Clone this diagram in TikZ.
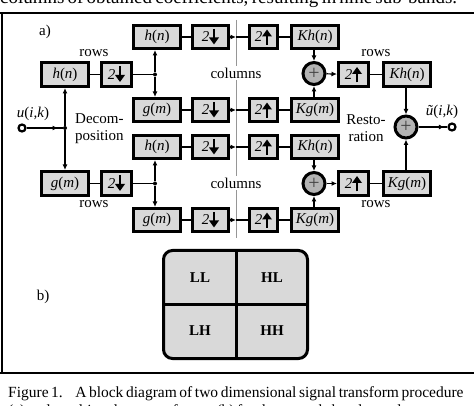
\documentclass[tikz,border=0pt]{standalone}
\usepackage{fontspec}
\setmainfont{Liberation Serif}
\usetikzlibrary{arrows.meta}
\definecolor{boxgray}{RGB}{217,217,217}
\definecolor{plusgray}{RGB}{180,180,180}
\definecolor{colgray}{RGB}{150,150,150}
\begin{document}
\begin{tikzpicture}[x=1pt,y=-1pt,
  font=\fontsize{15}{17}\selectfont,
  box/.style={draw, line width=3pt, fill=boxgray, minimum height=23pt, inner sep=0pt},
  lbox/.style={box, minimum width=47pt},
  twobox/.style={box, path picture={
      \node[inner sep=0pt] at ([xshift=-5pt]path picture bounding box.center) {\textit{2}};
      \draw[line width=2.6pt,-{Triangle[length=7pt,width=9.5pt]}]
        ([xshift=3.5pt,yshift=#1*8pt]path picture bounding box.center) --
        ([xshift=3.5pt,yshift=-#1*7.5pt]path picture bounding box.center);}},
  downbox/.style={twobox=1},
  upbox/.style={twobox=-1},
  dbox/.style={downbox, minimum width=36pt},
  ubox/.style={upbox, minimum width=28pt},
  rdbox/.style={downbox, minimum width=30pt, minimum height=24pt},
  rubox/.style={upbox, minimum width=30pt, minimum height=24pt},
  rlbox/.style={lbox, minimum height=24pt},
  plus/.style={circle, draw, line width=3pt, fill=plusgray, minimum size=22pt, inner sep=0pt,
      font=\fontsize{20}{20}\selectfont, text=black!75},
  port/.style={circle, draw, line width=2.2pt, fill=white, minimum size=7pt, inner sep=0pt},
  dot/.style={circle, fill=black, minimum size=4pt, inner sep=0pt},
  conn/.style={line width=1.2pt},
  arr/.style={conn, -{Latex[length=5.5pt,width=5pt]}},
  lab/.style={inner sep=0pt},
  frame/.style={line width=2pt}
]
\useasboundingbox (0,0) rectangle (474,406);
\clip (0,0) rectangle (474,406);

% frame
\draw[frame] (0,13) -- (474,13);
\draw[frame] (2,13) -- (2,373);
\draw[frame] (0,373) -- (474,373);

% column separator
\draw[colgray, line width=1pt] (236,20) -- (236,238);
\node[lab, fill=white, inner xsep=1pt, inner ysep=2pt] (col1) at (236,73) {columns};
\node[lab, fill=white, inner xsep=1pt, inner ysep=2pt] (col2) at (236,183) {columns};

% labels
\node[lab] (la) at (45,32) {a)};
\node[lab] (r1) at (94,53) {rows};
\node[lab] (r2) at (94,204) {rows};
\node[lab] (r3) at (376,53) {rows};
\node[lab] (r4) at (376,204) {rows};
\node[lab, align=left, anchor=west] (dec) at (75,128.5) {Decom-\\position};
\node[lab, align=center] (res) at (366,128.5) {Resto-\\ration};
\node[lab] (ulab) at (33,114) {\textit{u}(\textit{i,k})};
\node[lab] (olab) at (442,112) {\textit{\~u}(\textit{i,k})};

% decomposition: rows
\node[rlbox] (hL) at (65,74.5) {\textit{h}(\textit{n})};
\node[rdbox] (dL1) at (116.5,74.5) {};
\node[rlbox] (gL) at (65,183.5) {\textit{g}(\textit{m})};
\node[rdbox] (dL2) at (116.5,183.5) {};

% decomposition: columns
\node[lbox] (h1) at (157,37) {\textit{h}(\textit{n})};
\node[dbox] (d1) at (210.5,37) {};
\node[lbox] (g1) at (157,110) {\textit{g}(\textit{m})};
\node[dbox] (d2) at (210.5,110) {};
\node[lbox] (h2) at (157,147) {\textit{h}(\textit{n})};
\node[dbox] (d3) at (210.5,147) {};
\node[lbox] (g2) at (157,220) {\textit{g}(\textit{m})};
\node[dbox] (d4) at (210.5,220) {};

% restoration: columns
\node[ubox] (u1) at (263.5,37) {};
\node[lbox] (K1) at (315,37) {\textit{Kh}(\textit{n})};
\node[ubox] (u2) at (263.5,110) {};
\node[lbox] (K2) at (315,110) {\textit{Kg}(\textit{m})};
\node[ubox] (u3) at (263.5,147) {};
\node[lbox] (K3) at (315,147) {\textit{Kh}(\textit{n})};
\node[ubox] (u4) at (263.5,220) {};
\node[lbox] (K4) at (315,220) {\textit{Kg}(\textit{m})};
\node[plus] (p1) at (314,73.5) {+};
\node[plus] (p2) at (314,183.5) {+};

% restoration: rows
\node[rubox] (uR1) at (353.5,74.5) {};
\node[rlbox] (KR1) at (407,74.5) {\textit{Kh}(\textit{n})};
\node[rubox] (uR2) at (353.5,183.5) {};
\node[rlbox] (KR2) at (407,183.5) {\textit{Kg}(\textit{m})};
\node[plus] (pO) at (406,127) {+};

% ports and junctions
\node[port] (in) at (22,128) {};
\node[port] (out) at (452,127) {};
\node[dot] (jin) at (65,128) {};
\node[dot] (j1) at (155,74.5) {};
\node[dot] (j2) at (155,183.5) {};
\coordinate (c1) at (236,37);
\coordinate (c2) at (236,110);
\coordinate (c3) at (236,147);
\coordinate (c4) at (236,220);

% connectors: input
\draw[conn] (in) -- (jin);
\draw[arr] (in) -- ([xshift=-7pt]jin.center);
\draw[arr] (jin) -- (hL);
\draw[arr] (jin) -- (gL);
\draw[conn] (hL) -- (dL1);
\draw[conn] (gL) -- (dL2);
\draw[conn] (dL1) -- (j1);
\draw[conn] (dL2) -- (j2);
\draw[arr] (j1) -- (j1 |- h1.south);
\draw[arr] (j1) -- (j1 |- g1.north);
\draw[arr] (j2) -- (j2 |- h2.south);
\draw[arr] (j2) -- (j2 |- g2.north);
\draw[conn] (h1) -- (d1);
\draw[conn] (g1) -- (d2);
\draw[conn] (h2) -- (d3);
\draw[conn] (g2) -- (d4);
\draw[arr] (d1) -- (c1);
\draw[arr] (d2) -- (c2);
\draw[arr] (d3) -- (c3);
\draw[arr] (d4) -- (c4);
\draw[conn] (c1) -- (u1);
\draw[conn] (c2) -- (u2);
\draw[conn] (c3) -- (u3);
\draw[conn] (c4) -- (u4);
\draw[conn] (u1) -- (K1);
\draw[conn] (u2) -- (K2);
\draw[conn] (u3) -- (K3);
\draw[conn] (u4) -- (K4);
\draw[arr] (K1.south -| p1) -- (p1);
\draw[arr] (K2.north -| p1) -- (p1);
\draw[arr] (K3.south -| p2) -- (p2);
\draw[arr] (K4.north -| p2) -- (p2);
\draw[arr] (p1) -- (uR1);
\draw[arr] (p2) -- (uR2);
\draw[conn] (uR1) -- (KR1);
\draw[conn] (uR2) -- (KR2);
\draw[arr] (KR1.south -| pO) -- (pO);
\draw[arr] (KR2.north -| pO) -- (pO);
\draw[conn] (pO) -- (out);
\draw[arr] (pO) -- ([xshift=-3pt]out.west);

% part b)
\node[lab] (lb) at (43,297) {b)};
\draw[line width=3pt, fill=boxgray, rounded corners=9pt] (163.5,250.5) rectangle (307.5,358.5);
\draw[line width=3pt] (236,250.5) -- (236,358.5);
\draw[line width=3pt] (163.5,304) -- (307.5,304);
\node[lab, font=\fontsize{15}{17}\selectfont\bfseries] (LL) at (200,278) {LL};
\node[lab, font=\fontsize{15}{17}\selectfont\bfseries] (HL) at (272,278) {HL};
\node[lab, font=\fontsize{15}{17}\selectfont\bfseries] (LH) at (200,331) {LH};
\node[lab, font=\fontsize{15}{17}\selectfont\bfseries] (HH) at (272,331) {HH};

% surrounding text
\node[lab, anchor=base west, font=\fontsize{19}{21}\selectfont] (captop) at (0,4)
  {\makebox[451pt][s]{columns of obtained coefficients, resulting in nine sub-bands.}};
\node[lab, anchor=base west, font=\fontsize{15.5}{18}\selectfont] (cap1) at (8,397)
  {\makebox[454pt][s]{Figure 1.\hspace{0.8em}A block diagram of two dimensional signal transform procedure}};
\node[lab, anchor=base west, font=\fontsize{15.5}{18}\selectfont] (cap2) at (8,415)
  {\makebox[454pt][s]{(a) and resulting data array format (b) for the two sub-band wavelet system.}};
\end{tikzpicture}
\end{document}
